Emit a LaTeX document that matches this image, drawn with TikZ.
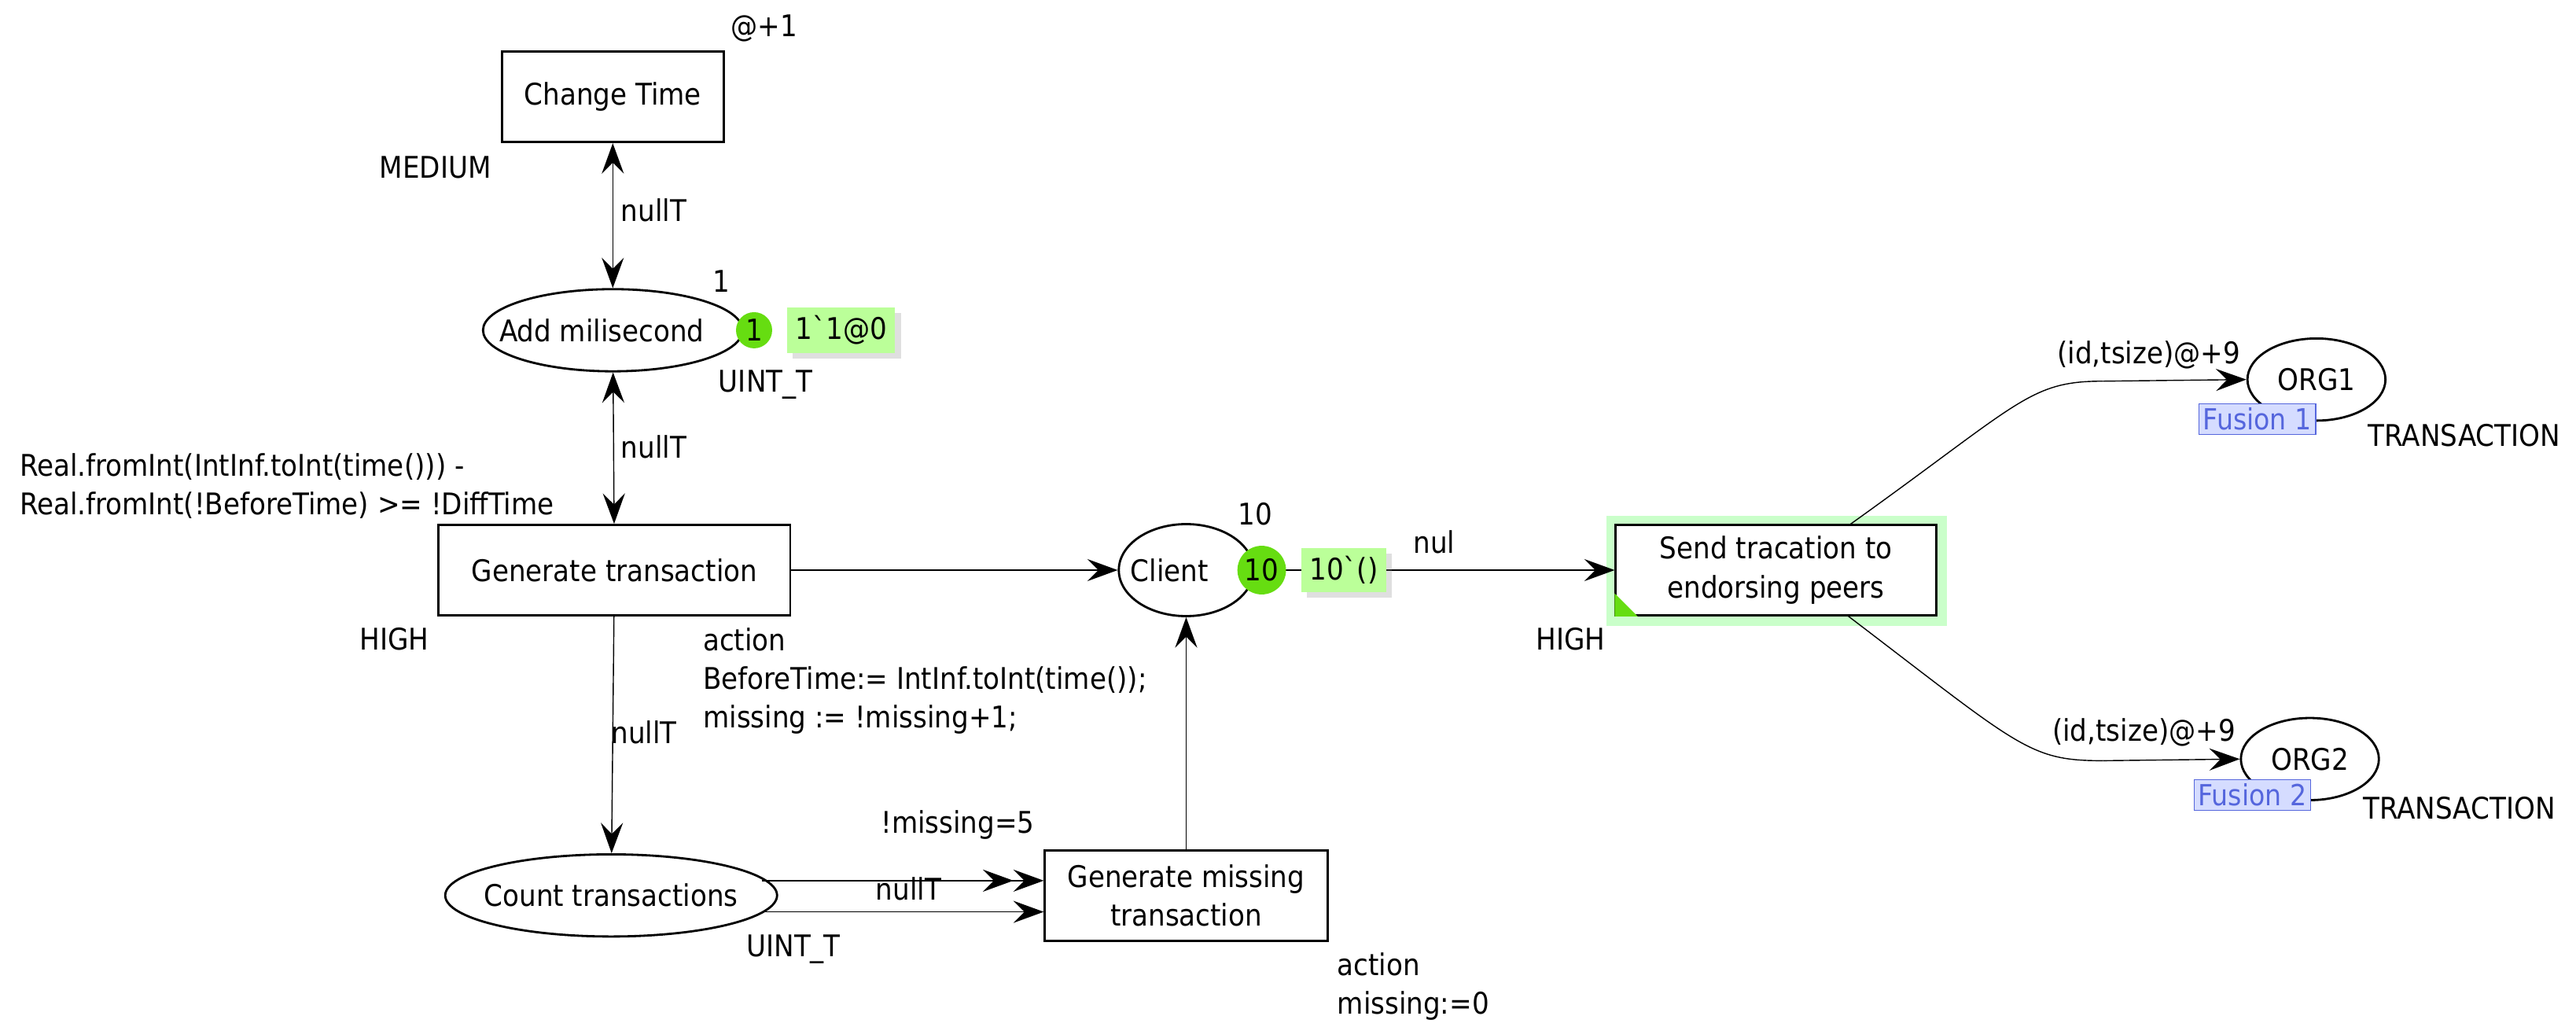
\documentclass[tikz,border=0pt]{standalone}
\usepackage{fontspec}
\setmainfont{DejaVu Sans Condensed}
\usetikzlibrary{arrows.meta,shapes.geometric,shadows}
\definecolor{tokg}{HTML}{66DD11}
\definecolor{markg}{HTML}{BBFF99}
\definecolor{fusb}{HTML}{5566DD}
\definecolor{fusf}{HTML}{D5DCFF}
\begin{document}
\begin{tikzpicture}[x=0.02089cm,y=-0.02089cm,
  font=\fontsize{10.8}{14}\selectfont,
  trans/.style={draw,thick,minimum width=#1,minimum height=55*0.02089cm,align=center,inner sep=0pt},
  place/.style={draw,thick,ellipse,inner sep=0pt,minimum width=#1},
  arr/.style={-{Stealth[length=11pt,width=8pt,inset=4pt]}},
  darr/.style={{Stealth[length=11pt,width=8pt,inset=4pt]}-{Stealth[length=11pt,width=8pt,inset=4pt]}},
  lbl/.style={inner sep=1pt},
  tok/.style={circle,fill=tokg,inner sep=1pt,minimum size=22*0.02089cm},
  mrk/.style={fill=markg,inner sep=3pt,drop shadow={opacity=0.25,shadow xshift=2pt,shadow yshift=-2pt}},
  fus/.style={draw=fusb,fill=fusf,text=fusb,inner sep=1.5pt,font=\fontsize{10.5}{12}\selectfont}]
\useasboundingbox (0,0) rectangle (1568,625);
% nodes
\node[trans=135*0.02089cm] (ct) at (373,59) {Change Time};
\node[place=158*0.02089cm,minimum height=50*0.02089cm,label=center:{\hspace*{-8pt}Add milisecond}] (am) at (373,201) {};
\node[trans=214*0.02089cm] (gt) at (374,347) {Generate transaction};
\node[place=82*0.02089cm,minimum height=56*0.02089cm,label=center:{\hspace*{-12pt}Client}] (cl) at (722,347) {};
\node[place=202*0.02089cm,minimum height=50*0.02089cm,label=center:{Count transactions}] (cnt) at (372,545) {};
\node[trans=172*0.02089cm] (gm) at (722,545) {Generate missing\\transaction};
\fill[green!60!white,opacity=0.35] (978,314) rectangle (1185,381);
\node[trans=195*0.02089cm,fill=white] (st) at (1081,347) {Send tracation to\\endorsing peers};
\fill[tokg] (st.south west) -- ++(0,-14) -- ++(14,14) -- cycle;
\node[place=84*0.02089cm,minimum height=50*0.02089cm,label=center:{ORG1}] (o1) at (1410,231) {};
\node[place=84*0.02089cm,minimum height=50*0.02089cm,label=center:{ORG2}] (o2) at (1406,462) {};
% arcs
\draw[darr] (ct) -- (am);
\draw[darr] (am) -- (gt);
\draw[arr] (gt) -- (cl);
\draw[arr] (gt) -- (cnt);
\draw[arr] (gm) -- (cl);
\draw[arr] (cl.east) -- (st.west);
\coordinate (c1s) at ([yshift=9*0.02089cm]cnt.east);
\coordinate (c2s) at ([yshift=-10*0.02089cm]cnt.east);
\draw[-{Stealth[length=11pt,width=8pt,inset=4pt]Stealth[length=11pt,width=8pt,inset=4pt]}] ([xshift=-6]c1s) -- (gm.west|-c1s);
\draw[arr] ([xshift=-6]c2s) -- (gm.west|-c2s);
\draw (1125,320) .. controls (1230,245) and (1235,232) .. (1280,232);
\draw[arr] (1280,232) -- (o1.west);
\draw (1125,375) .. controls (1230,455) and (1235,463) .. (1280,463);
\draw[arr] (1280,463) -- (o2.west);
% tokens & markings
\node[tok] (t1) at (459,201) {1};
\node[mrk] (m1) at (512,201) {1\textasciigrave 1@0};
\node[tok] (t2) at (768,347) {10};
\draw (t2) -- (791,347);
\node[mrk] (m2) at (818,347) {10\textasciigrave()};
\node[fus] (f1) at (1374,255) {Fusion 1};
\node[fus] (f2) at (1371,484) {Fusion 2};
% labels
\node[lbl] at (465,17) {@+1};
\node[lbl] at (265,102) {MEDIUM};
\node[lbl] at (398,128) {nullT};
\node[lbl] at (439,171) {1};
\node[lbl] at (466,234) {UINT\_T};
\node[lbl] at (398,272) {nullT};
\node[lbl,anchor=west,align=left] at (10,296) {Real.fromInt(IntInf.toInt(time())) -\\Real.fromInt(!BeforeTime) >= !DiffTime};
\node[lbl] at (240,389) {HIGH};
\node[lbl,anchor=north west,align=left] at (426,380) {action\\BeforeTime:= IntInf.toInt(time());\\missing := !missing+1;};
\node[lbl] at (392,446) {nullT};
\node[lbl] at (764,313) {10};
\node[lbl] at (873,330) {nul};
\node[lbl] at (956,389) {HIGH};
\node[lbl] at (583,502) {!missing=5};
\node[lbl] at (553,541) {nullT};
\node[lbl] at (483,578) {UINT\_T};
\node[lbl,anchor=north west,align=left] at (812,578) {action\\ missing:=0};
\node[lbl] at (1308,216) {(id,tsize)@+9};
\node[lbl] at (1305,446) {(id,tsize)@+9};
\node[lbl] at (1500,265) {TRANSACTION};
\node[lbl] at (1497,492) {TRANSACTION};
\end{tikzpicture}
\end{document}
